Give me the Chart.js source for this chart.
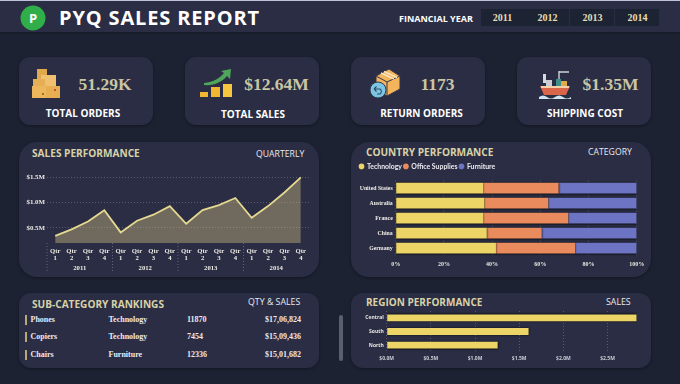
<!DOCTYPE html>
<html lang="en">
<head>
<meta charset="UTF-8">
<title>PYQ Sales Report</title>
<script src="https://cdn.jsdelivr.net/npm/chart.js"></script>
<style>
html, body { margin: 0; padding: 0; background: #1c2232; }
#page { position: relative; width: 680px; height: 384px; overflow: hidden; background: #1c2232; font-family: "Open Sans", sans-serif; color: #fff; filter: blur(0.35px); }
#header { position: absolute; left: 0; top: 0; width: 680px; height: 32px; background: #2a2d43; border-top: 1px solid #bcc3d8; box-sizing: border-box; box-shadow: 0 1px 2px rgba(0,0,0,.3); }
.card { position: absolute; background: #2a2d43; border-radius: 11px; box-shadow: 0 1px 3px rgba(0,0,0,.35); }
.txt { position: absolute; white-space: nowrap; transform: translateY(-50%); line-height: 1; }
.mid { transform: translate(-50%, -50%); }
.right { transform: translate(-100%, -50%); }
.serif { font-family: "Liberation Serif", serif; font-weight: 700; }
.head { font-weight: 700; color: #d8d2a8; }
.side { font-weight: 400; color: #e8e9ee; }
.kpi { font-family: "Liberation Serif", serif; font-weight: 700; font-size: 17.5px; color: #cbc5a6; }
.kpilabel { font-weight: 700; font-size: 10px; color: #fff; }
.yearbtn { position: absolute; top: 9px; height: 17px; width: 44px; background: #1c2333; }
canvas { position: absolute; }
svg { position: absolute; }
#scroll { position: absolute; left: 339px; top: 315px; width: 4px; height: 46px; background: #5a5f70; border-radius: 2px; }
</style>
</head>
<body>
<div id="page">
    <div id="header"></div>
    <svg style="left:20px;top:5px" width="26" height="26"><circle cx="13" cy="13" r="12.5" fill="#2fae4a"/></svg>
    <div class="txt mid" style="left:33px;top:18px;font-size:13px;font-weight:700">P</div>
    <div class="txt" style="left:59px;top:18px;font-size:20px;font-weight:700;letter-spacing:.85px">PYQ SALES REPORT</div>
    <div class="txt" style="left:399px;top:18px;font-size:9px;font-weight:700">FINANCIAL YEAR</div>

    <div class="card" style="left:19px;top:57px;width:134px;height:68px"></div>
    <div class="card" style="left:185px;top:57px;width:134px;height:68px"></div>
    <div class="card" style="left:351px;top:57px;width:134px;height:68px"></div>
    <div class="card" style="left:517px;top:57px;width:134px;height:68px"></div>

    <!-- boxes -->
    <svg style="left:30px;top:66px" width="34" height="34">
        <rect x="7" y="3" width="10" height="10" fill="#e0a94e"/>
        <rect x="11" y="9" width="15" height="12" fill="#f0c070"/>
        <rect x="3" y="13" width="12" height="9" fill="#e6ae55"/>
        <rect x="2" y="20" width="14" height="12" fill="#edb55c"/>
        <rect x="16" y="20" width="14" height="12" fill="#e8ae52"/>
        <rect x="12" y="27" width="2" height="2" fill="#b0642a"/>
        <rect x="24" y="23" width="2" height="2" fill="#c9503a"/>
    </svg>
    <!-- growth bars -->
    <svg style="left:198px;top:66px" width="36" height="34">
        <rect x="2" y="26" width="8" height="5" fill="#f2b632"/>
        <rect x="13" y="21" width="9" height="10" fill="#f2b632"/>
        <rect x="25" y="18" width="9" height="13" fill="#f7c63e"/>
        <path d="M6 17 C16 16 22 12 26 7 L23 5 L33 3 L32 13 L29 10 C24 16 16 20 6 19 Z" fill="#4fa65a"/>
    </svg>
    <!-- return box -->
    <svg style="left:368px;top:66px" width="34" height="34">
        <path d="M8 10 L21 3 L32 10 L32 23 L19 30 L8 23 Z" fill="#f4b45c" stroke="#33364a"/>
        <path d="M8 10 L19 16 L32 10 M19 16 L19 30" fill="none" stroke="#33364a"/>
        <path d="M13 7 L26 13 M16 5.5 L29 11.5" stroke="#f6e3c0" stroke-width="1.5"/>
        <circle cx="10" cy="24" r="8" fill="#7cc6e4" stroke="#33364a"/>
        <path d="M6 23 H12 A3 3 0 0 1 12 28 H9 M6 23 L8.5 20.5 M6 23 L8.5 25.5" fill="none" stroke="#2d4a66" stroke-width="1.1"/>
    </svg>
    <!-- ship -->
    <svg style="left:538px;top:68px" width="34" height="32">
        <rect x="5" y="6" width="3" height="9" fill="#d7d8dc"/>
        <rect x="8" y="12" width="6" height="6" fill="#c9ccd2"/>
        <rect x="18" y="11" width="5" height="7" fill="#3e8f8a"/>
        <rect x="23" y="13" width="6" height="5" fill="#e0a94e"/>
        <path d="M21 3 L21 11 M21 4 L31 4" stroke="#cfd2d8" stroke-width="1.4"/>
        <path d="M2 18 L32 18 L28 27 L6 27 Z" fill="#d9664a"/>
        <rect x="3" y="18" width="28" height="2" fill="#f2d0a8"/>
        <path d="M1 29 Q5 26 9 29 T17 29 T25 29 T33 29 L33 31 L1 31 Z" fill="#cfe6f0"/>
    </svg>

    <div class="card" style="left:19px;top:142px;width:300px;height:135px;border-radius:18px"></div>
    <div class="card" style="left:351px;top:142px;width:300px;height:135px;border-radius:18px"></div>
    <div class="card" style="left:19px;top:293px;width:300px;height:75px;border-radius:12px"></div>
    <div class="card" style="left:351px;top:293px;width:300px;height:75px;border-radius:12px"></div>

    <div class="txt head" style="left:32px;top:153px;font-size:10.1px">SALES PERFORMANCE</div>
    <div class="txt side" style="left:256px;top:154px;font-size:8.7px">QUARTERLY</div>
    <div class="txt head" style="left:366px;top:152px;font-size:10.1px">COUNTRY PERFORMANCE</div>
    <div class="txt side" style="left:588px;top:152px;font-size:8.7px">CATEGORY</div>
    <div class="txt head" style="left:32px;top:304px;font-size:10.1px">SUB-CATEGORY RANKINGS</div>
    <div class="txt side" style="left:248px;top:302px;font-size:8.8px">QTY &amp; SALES</div>
    <div class="txt head" style="left:366px;top:302px;font-size:10px">REGION PERFORMANCE</div>
    <div class="txt side" style="left:606px;top:302px;font-size:8.8px">SALES</div>

    <canvas id="salesChart" style="left:19px;top:165px" width="300" height="112"></canvas>
    <canvas id="countryChart" style="left:351px;top:161px" width="300" height="109"></canvas>
    <canvas id="regionChart" style="left:351px;top:305px" width="300" height="62"></canvas>
    <div id="scroll"></div>
</div>

<script>
var yearLabels = ['2011', '2012', '2013', '2014'];
var kpiValues = ['51.29K', '$12.64M', '1173', '$1.35M'];
var kpiLabels = ['TOTAL ORDERS', 'TOTAL SALES', 'RETURN ORDERS', 'SHIPPING COST'];

var quarterLabels = [
    ['Qtr', '1'], ['Qtr', '2'], ['Qtr', '3'], ['Qtr', '4'],
    ['Qtr', '1'], ['Qtr', '2'], ['Qtr', '3'], ['Qtr', '4'],
    ['Qtr', '1'], ['Qtr', '2'], ['Qtr', '3'], ['Qtr', '4'],
    ['Qtr', '1'], ['Qtr', '2'], ['Qtr', '3'], ['Qtr', '4']
];
var quarterSales = [0.34, 0.47, 0.625, 0.85, 0.41, 0.64, 0.76, 0.93, 0.58, 0.85, 0.95, 1.09, 0.70, 0.93, 1.20, 1.50];
var salesTicks = [0.5, 1.0, 1.5];

var countries = ['United States', 'Australia', 'France', 'China', 'Germany'];
var technology = [36.4, 36.8, 36.4, 37.8, 41.6];
var officeSupplies = [31.2, 26.5, 35.2, 22.8, 32.8];
var furniture = [32.4, 36.7, 28.4, 39.4, 25.6];

var regions = ['Central', 'South', 'North'];
var regionSales = [2.83, 1.606, 1.256];

var rankNames = ['Phones', 'Copiers', 'Chairs'];
var rankCategories = ['Technology', 'Technology', 'Furniture'];
var rankQty = ['11870', '7454', '12336'];
var rankSales = ['$17,06,824', '$15,09,436', '$15,01,682'];

var page = document.getElementById('page');

function addText(text, x, y, cls, css) {
    var el = document.createElement('div');
    el.className = 'txt ' + cls;
    el.style.cssText = 'left:' + x + 'px;top:' + y + 'px;' + (css || '');
    el.textContent = text;
    page.appendChild(el);
}

// top slicer and kpi cards
var btnX = [481, 525, 570, 615];
var btnMid = [502.5, 547.5, 592.5, 637.5];
yearLabels.forEach(function(y, i) {
    var b = document.createElement('div');
    b.className = 'yearbtn';
    b.style.left = btnX[i] + 'px';
    page.appendChild(b);
    addText(y, btnMid[i], 18, 'mid serif', 'font-size:10px;color:#e6dfb4');
});

var kpiMid = [105, 276.5, 437.5, 610.5];
var kpiLabelMid = [83, 253, 421.5, 585];
kpiValues.forEach(function(v, i) {
    addText(v, kpiMid[i], 85, 'mid kpi');
    addText(kpiLabels[i], kpiLabelMid[i], i === 1 ? 113.5 : 112.5, 'mid kpilabel');
});

// ranking table
var rowY = [319.5, 337, 354.5];
rankNames.forEach(function(name, i) {
    var bar = document.createElement('div');
    bar.style.cssText = 'position:absolute;left:25px;top:' + (rowY[i] - 5) + 'px;width:1.5px;height:10px;background:#b9a878';
    page.appendChild(bar);
    var s = 'font-size:8px;color:#eceaf0';
    addText(name, 30.5, rowY[i], 'serif', s);
    addText(rankCategories[i], 108.5, rowY[i], 'serif', s);
    addText(rankQty[i], 187, rowY[i], 'serif', s);
    addText(rankSales[i], 301, rowY[i], 'right serif', s);
});

Chart.defaults.animation = false;
Chart.defaults.responsive = false;
Chart.defaults.plugins.tooltip.enabled = false;

var serif = 'Liberation Serif';
var dotted = 'rgba(255,255,255,0.22)';

function fixSize(prop, size) {
    return function(scale) { scale[prop] = size; };
}

// dashed separators between the years, under the plot
var yearDividers = {
    id: 'yearDividers',
    afterDraw: function(chart) {
        var ctx = chart.ctx, s = chart.scales.years;
        ctx.save();
        ctx.strokeStyle = 'rgba(255,255,255,0.28)';
        ctx.setLineDash([1, 2]);
        ctx.beginPath();
        yearLabels.forEach(function(y, i) {
            var px = s.getPixelForValue(i - 0.5);
            ctx.moveTo(px, chart.chartArea.bottom);
            ctx.lineTo(px, s.bottom);
        });
        ctx.stroke();
        ctx.restore();
    }
};

var barShadow = {
    id: 'barShadow',
    beforeDatasetsDraw: function(chart) {
        chart.ctx.save();
        chart.ctx.shadowColor = 'rgba(0,0,0,0.9)';
        chart.ctx.shadowBlur = 2;
    },
    afterDatasetsDraw: function(chart) {
        chart.ctx.restore();
    }
};

// extra room under the legend
var legendGap = {
    id: 'legendGap',
    beforeInit: function(chart) {
        var fit = chart.legend.fit;
        chart.legend.fit = function() {
            fit.bind(chart.legend)();
            this.height += 0.8;
        };
    }
};

new Chart(document.getElementById('salesChart'), {
    type: 'line',
    plugins: [yearDividers],
    data: {
        labels: quarterLabels,
        datasets: [{
            data: quarterSales,
            borderColor: '#e6d98f',
            borderWidth: 1.8,
            backgroundColor: 'rgba(226,205,140,0.38)',
            fill: 'origin',
            pointRadius: 0,
            tension: 0,
            clip: false
        }]
    },
    options: {
        layout: { padding: { left: 0, right: 10, top: 12.3, bottom: 5 } },
        plugins: { legend: { display: false } },
        scales: {
            y: {
                min: 0.2,
                max: 1.5,
                afterBuildTicks: function(scale) {
                    scale.ticks = salesTicks.map(function(v) { return { value: v }; });
                },
                afterFit: fixSize('width', 28),
                border: { display: false, dash: [1, 2] },
                grid: { color: dotted, drawTicks: false },
                ticks: {
                    color: '#e8e6e0',
                    padding: 2,
                    font: { family: serif, weight: 'bold', size: 6.9 },
                    callback: function(v) { return '$' + v.toFixed(1) + 'M'; }
                }
            },
            x: {
                offset: true,
                weight: 0,
                afterFit: fixSize('height', 19),
                border: { display: false },
                grid: { display: false, drawTicks: false },
                ticks: {
                    color: '#f0eee8',
                    autoSkip: false,
                    maxRotation: 0,
                    padding: 5,
                    font: { family: serif, weight: 'bold', size: 6.7, lineHeight: 1.05 }
                }
            },
            years: {
                type: 'category',
                labels: yearLabels,
                position: 'bottom',
                offset: true,
                weight: 1,
                afterFit: fixSize('height', 10),
                border: { display: false },
                grid: { display: false, drawTicks: false },
                ticks: {
                    color: '#f0eee8',
                    maxRotation: 0,
                    padding: 2,
                    font: { family: serif, weight: 'bold', size: 6.7 }
                }
            }
        }
    }
});

new Chart(document.getElementById('countryChart'), {
    type: 'bar',
    plugins: [barShadow, legendGap],
    data: {
        labels: countries,
        datasets: [
            { label: 'Technology', data: technology, backgroundColor: '#ecd566' },
            { label: 'Office Supplies', data: officeSupplies, backgroundColor: '#e98b5c' },
            { label: 'Furniture', data: furniture, backgroundColor: '#6d74c4' }
        ]
    },
    options: {
        indexAxis: 'y',
        layout: { padding: { left: 6.5, right: 14.3, top: 0, bottom: 0 } },
        datasets: { bar: { categoryPercentage: 0.72, barPercentage: 1 } },
        plugins: {
            legend: {
                position: 'top',
                align: 'start',
                labels: {
                    color: '#eceaf0',
                    usePointStyle: true,
                    pointStyle: 'circle',
                    boxWidth: 4,
                    boxHeight: 4,
                    padding: 2,
                    font: { family: 'Lato', weight: 'bold', size: 6.9 }
                }
            }
        },
        scales: {
            x: {
                stacked: true,
                min: 0,
                max: 100,
                afterFit: fixSize('height', 14.3),
                border: { display: false, dash: [1, 2] },
                grid: { color: dotted, drawTicks: false },
                ticks: {
                    stepSize: 20,
                    color: '#e8e6e0',
                    maxRotation: 0,
                    padding: 5,
                    font: { family: serif, weight: 'bold', size: 6 },
                    callback: function(v) { return v + '%'; }
                }
            },
            y: {
                stacked: true,
                afterFit: fixSize('width', 38.2),
                border: { display: false },
                grid: { display: false, drawTicks: false },
                ticks: {
                    color: '#f0eee8',
                    autoSkip: false,
                    padding: 3,
                    font: { family: serif, weight: 'bold', size: 5.8 }
                }
            }
        }
    }
});

new Chart(document.getElementById('regionChart'), {
    type: 'bar',
    plugins: [barShadow],
    data: {
        labels: regions,
        datasets: [{ data: regionSales, backgroundColor: '#ecd566' }]
    },
    options: {
        indexAxis: 'y',
        layout: { padding: { left: 0, right: 14.3, top: 5, bottom: 0 } },
        datasets: { bar: { categoryPercentage: 0.5, barPercentage: 1 } },
        plugins: { legend: { display: false } },
        scales: {
            x: {
                min: 0,
                max: 2.83,
                afterFit: fixSize('height', 15),
                border: { display: false, dash: [1, 2] },
                grid: { color: dotted, drawTicks: false },
                ticks: {
                    stepSize: 0.5,
                    includeBounds: false,
                    color: '#c9ccd6',
                    maxRotation: 0,
                    padding: 4,
                    font: { family: 'Open Sans', weight: 'bold', size: 5 },
                    callback: function(v) { return '$' + v.toFixed(1) + 'M'; }
                }
            },
            y: {
                afterFit: fixSize('width', 35.7),
                border: { display: false },
                grid: { display: false, drawTicks: false },
                ticks: {
                    color: '#e8e6e0',
                    padding: 3,
                    font: { family: 'Open Sans', weight: 'bold', size: 5 }
                }
            }
        }
    }
});
</script>
</body>
</html>
